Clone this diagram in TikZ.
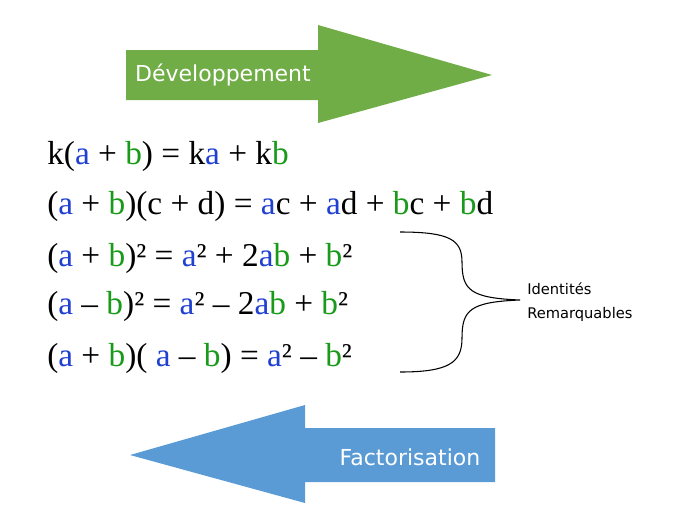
\documentclass[tikz,border=0pt]{standalone}
\usepackage{fontspec}
\setmainfont{Liberation Serif}
\newfontfamily\sansf{DejaVu Sans}
\definecolor{ga}{HTML}{70AD47}
\definecolor{ba}{HTML}{5B9BD5}
\definecolor{cb}{HTML}{2040D0}
\definecolor{cg}{HTML}{1A9A1A}
\newcommand{\A}{\textcolor{cb}{a}}
\newcommand{\B}{\textcolor{cg}{b}}
\begin{document}
\begin{tikzpicture}[x=0.75pt,y=-0.75pt,
  eq/.style={anchor=base west,inner sep=0,font=\fontsize{25}{28}\selectfont},
  lab/.style={text=white,font=\sansf\fontsize{16.5}{19}\selectfont},
  small/.style={anchor=base west,inner sep=0,font=\sansf\fontsize{11}{13}\selectfont}]
\useasboundingbox (0,0) rectangle (673,519);
\fill[ga] (126,50) -- (318,50) -- (318,25) -- (492,75) -- (318,123) -- (318,100) -- (126,100) -- cycle;
\node[lab] (dev) at (223,75) {Développement};
\fill[ba] (495,428) -- (305,428) -- (305,405) -- (130,455) -- (305,503) -- (305,482) -- (495,482) -- cycle;
\node[lab] (fac) at (410,457) {Factorisation};
\node[eq] (e1) at (47,164) {k(\A{} + \B) = k\A{} + k\B};
\node[eq] (e2) at (47,214) {(\A{} + \B)(c + d) = \A c + \A d + \B c + \B d};
\node[eq] (e3) at (47,266) {(\A{} + \B)² = \A² + 2\A\B{} + \B²};
\node[eq] (e4) at (47,314) {(\A{} – \B)² = \A² – 2\A\B{} + \B²};
\node[eq] (e5) at (47,366) {(\A{} + \B)( \A{} – \B) = \A² – \B²};
\draw[line width=0.8pt] (400,232) .. controls (450,232) and (462,240) .. (462,262)
  .. controls (462,290) and (470,298) .. (520,300)
  .. controls (470,302) and (462,310) .. (462,338)
  .. controls (462,362) and (450,372) .. (400,372);
\node[small] (i1) at (527,294) {Identités};
\node[small] (i2) at (527,318) {Remarquables};
\end{tikzpicture}
\end{document}
